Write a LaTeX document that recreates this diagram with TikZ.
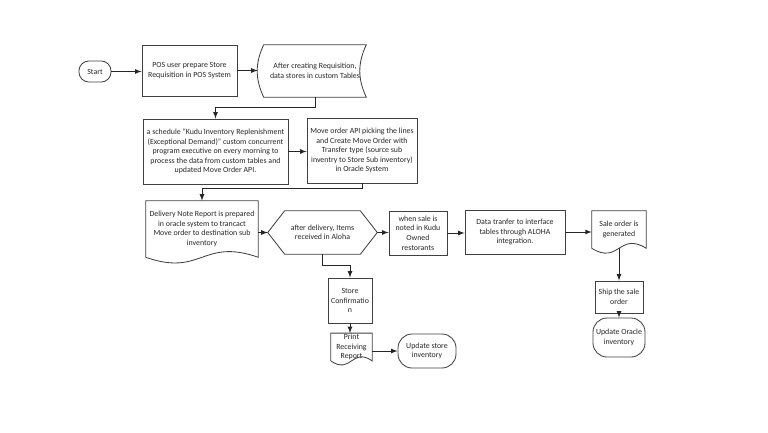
\documentclass[tikz,border=0pt]{standalone}
\usepackage{fontspec}
\setmainfont{Carlito}
\usetikzlibrary{calc}

\tikzset{
  every node/.style={font=\fontsize{5.6}{6.8}\selectfont, text=black!85, align=center, inner sep=1pt},
  proc/.style={draw=black!75, line width=.6pt, rectangle},
  term/.style={draw=black!75, line width=.6pt, rounded corners=7pt},
  blank/.style={draw=none, rectangle},
  outline/.style={draw=black!75, line width=.6pt},
  flow/.style={->, black!85, line width=.6pt},
}

\begin{document}
\begin{tikzpicture}[>=latex, x=0.025cm, y=-0.025cm]
  \useasboundingbox (0,0) rectangle (768,433);
  \node[term, minimum width=0.8cm, minimum height=0.525cm] (start) at (95,71.5) {Start};
  \node[proc, minimum width=2.375cm, minimum height=1.275cm] (pos) at (189.5,70.5) {POS user prepare Store\\Requisition in POS System};
  \node[blank, minimum width=2.55cm, minimum height=1.3cm] (tables) at (315,71) {After creating Requisition,\\data stores in custom Tables};
  \draw[outline] (tables.north west) -- (tables.north east) to[bend right=25] (tables.south east) -- (tables.south west) to[bend left=25] (tables.north west);
  \coordinate (tablesL) at ($(tables.west)+(-6,0)$);

  \node[proc, minimum width=3.625cm, minimum height=1.625cm] (sched) at (215.5,151.5) {a schedule “Kudu Inventory Replenishment\\(Exceptional Demand)” custom concurrent\\program executive on every morning to\\process the data from custom tables and\\updated Move Order API.};
  \node[proc, minimum width=2.75cm, minimum height=1.625cm] (moveapi) at (362,150.5) {Move order API picking the lines\\and Create Move Order with\\Transfer type (source sub\\inventry to Store Sub inventory)\\in Oracle System};

  \node[blank, minimum width=2.8cm, minimum height=1.4cm] (delivery) at (202,229) {Delivery Note Report is prepared\\in oracle system to trancact\\Move order to destination sub\\inventory};
  \draw[outline] (delivery.south west) -- (delivery.north west) -- (delivery.north east) -- (delivery.south east) .. controls ([yshift=14pt]delivery.south) and ([yshift=-14pt]delivery.south) .. (delivery.south west);
  \node[blank, minimum width=1.875cm, minimum height=1.075cm] (aloha) at (322.5,232.5) {after delivery, Items\\received in Aloha};
  \coordinate (alohaL) at ($(aloha.west)+(-17,0)$);
  \coordinate (alohaR) at ($(aloha.east)+(17,0)$);
  \draw[outline] (alohaL) -- (aloha.north west) -- (aloha.north east) -- (alohaR) -- (aloha.south east) -- (aloha.south west) -- cycle;
  \node[proc, minimum width=1.45cm, minimum height=1.1cm] (sale) at (418,233) {when sale is\\noted in Kudu\\Owned\\restorants};
  \node[proc, minimum width=2.5cm, minimum height=1.1cm] (transfer) at (515,232) {Data tranfer to interface\\tables through ALOHA\\integration.};
  \node[blank, minimum width=1.35cm, minimum height=0.925cm] (order) at (619,229.5) {Sale order is\\generated};
  \draw[outline] (order.south west) -- (order.north west) -- (order.north east) -- (order.south east) .. controls ([yshift=12pt]order.south) and ([yshift=-12pt]order.south) .. (order.south west);

  \node[proc, minimum width=1.1cm, minimum height=1.125cm] (confirm) at (350,300.5) {Store\\Confirmatio\\n};
  \node[blank, minimum width=1.025cm, minimum height=0.65cm, inner sep=0.5pt] (receipt) at (351.5,347) {Print\\Receiving\\Report};
  \draw[outline] (receipt.south west) -- (receipt.north west) -- (receipt.north east) -- (receipt.south east) .. controls ([yshift=10pt]receipt.south) and ([yshift=-10pt]receipt.south) .. (receipt.south west);
  \node[term, minimum width=1.45cm, minimum height=0.85cm, rounded corners=10pt] (storeinv) at (427,351) {Update store\\inventory};
  \node[proc, minimum width=1.2cm, minimum height=0.8cm] (ship) at (619,297) {Ship the sale\\order};
  \node[term, minimum width=1.3cm, minimum height=0.975cm, rounded corners=10pt] (oracle) at (619,337.5) {Update Oracle\\inventory};

  \draw[flow] (start.east) -- (start.east -| pos.west);
  \draw[flow] (pos.east) -- (pos.east -| tablesL);
  \draw[flow] (tables.south) -- ++(0,10) -| (sched.north);
  \draw[flow] (sched.east) -- (sched.east -| moveapi.west);
  \draw[flow] (moveapi.south) -- ++(0,5) -| (delivery.north);
  \draw[flow] (delivery.east |- alohaL) -- (alohaL);
  \draw[flow] (alohaR) -- (alohaR -| sale.west);
  \draw[flow] (sale.east) -- (sale.east -| transfer.west);
  \draw[flow] (transfer.east) -- (transfer.east -| order.west);
  \draw[flow] (order.south) -- (ship.north);
  \draw[flow] (ship.south) -- (oracle.north);
  \draw[flow] (aloha.south) -- ++(0,11) -| (confirm.north);
  \draw[flow] (confirm.south) -- (confirm.south |- receipt.north);
  \draw[flow] (receipt.east |- storeinv.west) -- (storeinv.west);
\end{tikzpicture}
\end{document}
